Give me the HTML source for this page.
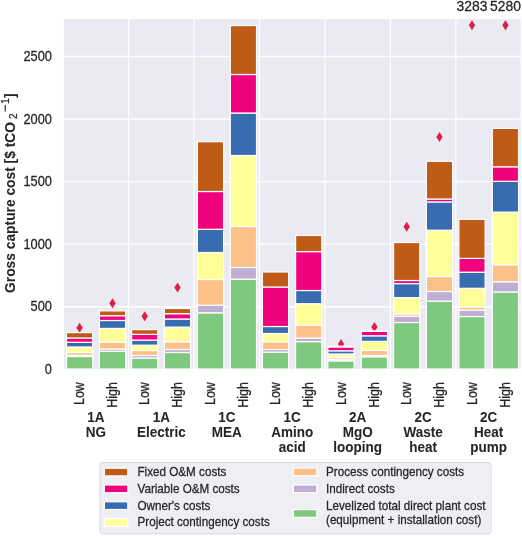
<!DOCTYPE html><html><head><meta charset="utf-8"><style>html,body{margin:0;padding:0;background:#fff;}svg{display:block;will-change:transform;}text{font-family:"Liberation Sans",sans-serif;stroke:#262626;stroke-width:0.25px;}text[font-weight="bold"]{stroke-width:0.05px;}</style></head><body>
<svg width="522" height="536" viewBox="0 0 522 536">
<rect x="63.9" y="19.1" width="456.70" height="350.10" fill="#eaeaf2"/>
<line x1="63.9" x2="520.6" y1="369.33" y2="369.33" stroke="#fff" stroke-width="1.3"/>
<line x1="63.9" x2="520.6" y1="306.76" y2="306.76" stroke="#fff" stroke-width="1.3"/>
<line x1="63.9" x2="520.6" y1="244.19" y2="244.19" stroke="#fff" stroke-width="1.3"/>
<line x1="63.9" x2="520.6" y1="181.62" y2="181.62" stroke="#fff" stroke-width="1.3"/>
<line x1="63.9" x2="520.6" y1="119.05" y2="119.05" stroke="#fff" stroke-width="1.3"/>
<line x1="63.9" x2="520.6" y1="56.48" y2="56.48" stroke="#fff" stroke-width="1.3"/>
<line x1="128.58" x2="128.58" y1="19.1" y2="369.2" stroke="#fff" stroke-width="1.3"/>
<line x1="194.05" x2="194.05" y1="19.1" y2="369.2" stroke="#fff" stroke-width="1.3"/>
<line x1="259.51" x2="259.51" y1="19.1" y2="369.2" stroke="#fff" stroke-width="1.3"/>
<line x1="324.98" x2="324.98" y1="19.1" y2="369.2" stroke="#fff" stroke-width="1.3"/>
<line x1="390.44" x2="390.44" y1="19.1" y2="369.2" stroke="#fff" stroke-width="1.3"/>
<line x1="455.91" x2="455.91" y1="19.1" y2="369.2" stroke="#fff" stroke-width="1.3"/>
<path d="M79.60 322.70 L82.80 327.70 L79.60 332.70 L76.40 327.70Z" fill="#dc1f4b"/>
<path d="M112.50 298.20 L115.70 303.20 L112.50 308.20 L109.30 303.20Z" fill="#dc1f4b"/>
<path d="M144.70 311.30 L147.90 316.30 L144.70 321.30 L141.50 316.30Z" fill="#dc1f4b"/>
<path d="M177.50 282.60 L180.70 287.60 L177.50 292.60 L174.30 287.60Z" fill="#dc1f4b"/>
<path d="M341.00 338.90 L344.20 343.90 L341.00 348.90 L337.80 343.90Z" fill="#dc1f4b"/>
<path d="M374.40 322.00 L377.60 327.00 L374.40 332.00 L371.20 327.00Z" fill="#dc1f4b"/>
<path d="M406.70 221.70 L409.90 226.70 L406.70 231.70 L403.50 226.70Z" fill="#dc1f4b"/>
<path d="M439.50 132.00 L442.70 137.00 L439.50 142.00 L436.30 137.00Z" fill="#dc1f4b"/>
<path d="M472.00 20.30 L475.20 25.30 L472.00 30.30 L468.80 25.30Z" fill="#dc1f4b"/>
<path d="M505.45 20.30 L508.65 25.30 L505.45 30.30 L502.25 25.30Z" fill="#dc1f4b"/>
<rect x="66.50" y="356.50" width="26.2" height="12.50" fill="#7fc97f" stroke="#fff" stroke-width="1.2"/>
<rect x="66.50" y="355.30" width="26.2" height="1.20" fill="#beaed4" stroke="#fff" stroke-width="1.2"/>
<rect x="66.50" y="352.50" width="26.2" height="2.80" fill="#fdc086" stroke="#fff" stroke-width="1.2"/>
<rect x="66.50" y="347.00" width="26.2" height="5.50" fill="#ffff99" stroke="#fff" stroke-width="1.2"/>
<rect x="66.50" y="342.30" width="26.2" height="4.70" fill="#386cb0" stroke="#fff" stroke-width="1.2"/>
<rect x="66.50" y="338.00" width="26.2" height="4.30" fill="#f0027f" stroke="#fff" stroke-width="1.2"/>
<rect x="66.50" y="332.60" width="26.2" height="5.40" fill="#bf5b17" stroke="#fff" stroke-width="1.2"/>
<rect x="99.40" y="351.30" width="26.2" height="17.70" fill="#7fc97f" stroke="#fff" stroke-width="1.2"/>
<rect x="99.40" y="349.00" width="26.2" height="2.30" fill="#beaed4" stroke="#fff" stroke-width="1.2"/>
<rect x="99.40" y="342.10" width="26.2" height="6.90" fill="#fdc086" stroke="#fff" stroke-width="1.2"/>
<rect x="99.40" y="328.40" width="26.2" height="13.70" fill="#ffff99" stroke="#fff" stroke-width="1.2"/>
<rect x="99.40" y="320.50" width="26.2" height="7.90" fill="#386cb0" stroke="#fff" stroke-width="1.2"/>
<rect x="99.40" y="315.70" width="26.2" height="4.80" fill="#f0027f" stroke="#fff" stroke-width="1.2"/>
<rect x="99.40" y="310.90" width="26.2" height="4.80" fill="#bf5b17" stroke="#fff" stroke-width="1.2"/>
<rect x="131.60" y="358.00" width="26.2" height="11.00" fill="#7fc97f" stroke="#fff" stroke-width="1.2"/>
<rect x="131.60" y="355.50" width="26.2" height="2.50" fill="#beaed4" stroke="#fff" stroke-width="1.2"/>
<rect x="131.60" y="350.50" width="26.2" height="5.00" fill="#fdc086" stroke="#fff" stroke-width="1.2"/>
<rect x="131.60" y="345.20" width="26.2" height="5.30" fill="#ffff99" stroke="#fff" stroke-width="1.2"/>
<rect x="131.60" y="340.10" width="26.2" height="5.10" fill="#386cb0" stroke="#fff" stroke-width="1.2"/>
<rect x="131.60" y="334.40" width="26.2" height="5.70" fill="#f0027f" stroke="#fff" stroke-width="1.2"/>
<rect x="131.60" y="329.60" width="26.2" height="4.80" fill="#bf5b17" stroke="#fff" stroke-width="1.2"/>
<rect x="164.40" y="352.50" width="26.2" height="16.50" fill="#7fc97f" stroke="#fff" stroke-width="1.2"/>
<rect x="164.40" y="349.50" width="26.2" height="3.00" fill="#beaed4" stroke="#fff" stroke-width="1.2"/>
<rect x="164.40" y="341.80" width="26.2" height="7.70" fill="#fdc086" stroke="#fff" stroke-width="1.2"/>
<rect x="164.40" y="327.10" width="26.2" height="14.70" fill="#ffff99" stroke="#fff" stroke-width="1.2"/>
<rect x="164.40" y="319.00" width="26.2" height="8.10" fill="#386cb0" stroke="#fff" stroke-width="1.2"/>
<rect x="164.40" y="313.70" width="26.2" height="5.30" fill="#f0027f" stroke="#fff" stroke-width="1.2"/>
<rect x="164.40" y="308.50" width="26.2" height="5.20" fill="#bf5b17" stroke="#fff" stroke-width="1.2"/>
<rect x="197.40" y="312.80" width="26.2" height="56.20" fill="#7fc97f" stroke="#fff" stroke-width="1.2"/>
<rect x="197.40" y="305.20" width="26.2" height="7.60" fill="#beaed4" stroke="#fff" stroke-width="1.2"/>
<rect x="197.40" y="279.50" width="26.2" height="25.70" fill="#fdc086" stroke="#fff" stroke-width="1.2"/>
<rect x="197.40" y="252.50" width="26.2" height="27.00" fill="#ffff99" stroke="#fff" stroke-width="1.2"/>
<rect x="197.40" y="229.30" width="26.2" height="23.20" fill="#386cb0" stroke="#fff" stroke-width="1.2"/>
<rect x="197.40" y="191.50" width="26.2" height="37.80" fill="#f0027f" stroke="#fff" stroke-width="1.2"/>
<rect x="197.40" y="141.70" width="26.2" height="49.80" fill="#bf5b17" stroke="#fff" stroke-width="1.2"/>
<rect x="230.30" y="279.10" width="26.2" height="89.90" fill="#7fc97f" stroke="#fff" stroke-width="1.2"/>
<rect x="230.30" y="267.50" width="26.2" height="11.60" fill="#beaed4" stroke="#fff" stroke-width="1.2"/>
<rect x="230.30" y="226.50" width="26.2" height="41.00" fill="#fdc086" stroke="#fff" stroke-width="1.2"/>
<rect x="230.30" y="155.50" width="26.2" height="71.00" fill="#ffff99" stroke="#fff" stroke-width="1.2"/>
<rect x="230.30" y="113.00" width="26.2" height="42.50" fill="#386cb0" stroke="#fff" stroke-width="1.2"/>
<rect x="230.30" y="74.50" width="26.2" height="38.50" fill="#f0027f" stroke="#fff" stroke-width="1.2"/>
<rect x="230.30" y="25.60" width="26.2" height="48.90" fill="#bf5b17" stroke="#fff" stroke-width="1.2"/>
<rect x="262.40" y="352.20" width="26.2" height="16.80" fill="#7fc97f" stroke="#fff" stroke-width="1.2"/>
<rect x="262.40" y="349.50" width="26.2" height="2.70" fill="#beaed4" stroke="#fff" stroke-width="1.2"/>
<rect x="262.40" y="341.80" width="26.2" height="7.70" fill="#fdc086" stroke="#fff" stroke-width="1.2"/>
<rect x="262.40" y="333.50" width="26.2" height="8.30" fill="#ffff99" stroke="#fff" stroke-width="1.2"/>
<rect x="262.40" y="326.50" width="26.2" height="7.00" fill="#386cb0" stroke="#fff" stroke-width="1.2"/>
<rect x="262.40" y="287.00" width="26.2" height="39.50" fill="#f0027f" stroke="#fff" stroke-width="1.2"/>
<rect x="262.40" y="272.00" width="26.2" height="15.00" fill="#bf5b17" stroke="#fff" stroke-width="1.2"/>
<rect x="295.60" y="341.60" width="26.2" height="27.40" fill="#7fc97f" stroke="#fff" stroke-width="1.2"/>
<rect x="295.60" y="338.00" width="26.2" height="3.60" fill="#beaed4" stroke="#fff" stroke-width="1.2"/>
<rect x="295.60" y="325.00" width="26.2" height="13.00" fill="#fdc086" stroke="#fff" stroke-width="1.2"/>
<rect x="295.60" y="303.70" width="26.2" height="21.30" fill="#ffff99" stroke="#fff" stroke-width="1.2"/>
<rect x="295.60" y="290.50" width="26.2" height="13.20" fill="#386cb0" stroke="#fff" stroke-width="1.2"/>
<rect x="295.60" y="251.60" width="26.2" height="38.90" fill="#f0027f" stroke="#fff" stroke-width="1.2"/>
<rect x="295.60" y="235.50" width="26.2" height="16.10" fill="#bf5b17" stroke="#fff" stroke-width="1.2"/>
<rect x="327.90" y="360.80" width="26.2" height="8.20" fill="#7fc97f" stroke="#fff" stroke-width="1.2"/>
<rect x="327.90" y="359.50" width="26.2" height="1.30" fill="#beaed4" stroke="#fff" stroke-width="1.2"/>
<rect x="327.90" y="357.60" width="26.2" height="1.90" fill="#fdc086" stroke="#fff" stroke-width="1.2"/>
<rect x="327.90" y="354.00" width="26.2" height="3.60" fill="#ffff99" stroke="#fff" stroke-width="1.2"/>
<rect x="327.90" y="350.80" width="26.2" height="3.20" fill="#386cb0" stroke="#fff" stroke-width="1.2"/>
<rect x="327.90" y="346.90" width="26.2" height="3.90" fill="#f0027f" stroke="#fff" stroke-width="1.2"/>
<rect x="327.90" y="346.30" width="26.2" height="0.60" fill="#bf5b17" stroke="#fff" stroke-width="1.2"/>
<rect x="361.30" y="356.80" width="26.2" height="12.20" fill="#7fc97f" stroke="#fff" stroke-width="1.2"/>
<rect x="361.30" y="355.50" width="26.2" height="1.30" fill="#beaed4" stroke="#fff" stroke-width="1.2"/>
<rect x="361.30" y="350.40" width="26.2" height="5.10" fill="#fdc086" stroke="#fff" stroke-width="1.2"/>
<rect x="361.30" y="341.40" width="26.2" height="9.00" fill="#ffff99" stroke="#fff" stroke-width="1.2"/>
<rect x="361.30" y="335.80" width="26.2" height="5.60" fill="#386cb0" stroke="#fff" stroke-width="1.2"/>
<rect x="361.30" y="331.30" width="26.2" height="4.50" fill="#f0027f" stroke="#fff" stroke-width="1.2"/>
<rect x="361.30" y="331.00" width="26.2" height="0.30" fill="#bf5b17" stroke="#fff" stroke-width="1.2"/>
<rect x="393.60" y="322.50" width="26.2" height="46.50" fill="#7fc97f" stroke="#fff" stroke-width="1.2"/>
<rect x="393.60" y="316.40" width="26.2" height="6.10" fill="#beaed4" stroke="#fff" stroke-width="1.2"/>
<rect x="393.60" y="313.90" width="26.2" height="2.50" fill="#fdc086" stroke="#fff" stroke-width="1.2"/>
<rect x="393.60" y="297.60" width="26.2" height="16.30" fill="#ffff99" stroke="#fff" stroke-width="1.2"/>
<rect x="393.60" y="283.60" width="26.2" height="14.00" fill="#386cb0" stroke="#fff" stroke-width="1.2"/>
<rect x="393.60" y="280.50" width="26.2" height="3.10" fill="#f0027f" stroke="#fff" stroke-width="1.2"/>
<rect x="393.60" y="242.50" width="26.2" height="38.00" fill="#bf5b17" stroke="#fff" stroke-width="1.2"/>
<rect x="426.40" y="301.10" width="26.2" height="67.90" fill="#7fc97f" stroke="#fff" stroke-width="1.2"/>
<rect x="426.40" y="291.50" width="26.2" height="9.60" fill="#beaed4" stroke="#fff" stroke-width="1.2"/>
<rect x="426.40" y="276.50" width="26.2" height="15.00" fill="#fdc086" stroke="#fff" stroke-width="1.2"/>
<rect x="426.40" y="230.20" width="26.2" height="46.30" fill="#ffff99" stroke="#fff" stroke-width="1.2"/>
<rect x="426.40" y="201.90" width="26.2" height="28.30" fill="#386cb0" stroke="#fff" stroke-width="1.2"/>
<rect x="426.40" y="199.00" width="26.2" height="2.90" fill="#f0027f" stroke="#fff" stroke-width="1.2"/>
<rect x="426.40" y="161.30" width="26.2" height="37.70" fill="#bf5b17" stroke="#fff" stroke-width="1.2"/>
<rect x="458.90" y="316.50" width="26.2" height="52.50" fill="#7fc97f" stroke="#fff" stroke-width="1.2"/>
<rect x="458.90" y="310.00" width="26.2" height="6.50" fill="#beaed4" stroke="#fff" stroke-width="1.2"/>
<rect x="458.90" y="307.00" width="26.2" height="3.00" fill="#fdc086" stroke="#fff" stroke-width="1.2"/>
<rect x="458.90" y="288.30" width="26.2" height="18.70" fill="#ffff99" stroke="#fff" stroke-width="1.2"/>
<rect x="458.90" y="272.20" width="26.2" height="16.10" fill="#386cb0" stroke="#fff" stroke-width="1.2"/>
<rect x="458.90" y="258.40" width="26.2" height="13.80" fill="#f0027f" stroke="#fff" stroke-width="1.2"/>
<rect x="458.90" y="219.30" width="26.2" height="39.10" fill="#bf5b17" stroke="#fff" stroke-width="1.2"/>
<rect x="492.35" y="292.00" width="26.2" height="77.00" fill="#7fc97f" stroke="#fff" stroke-width="1.2"/>
<rect x="492.35" y="281.80" width="26.2" height="10.20" fill="#beaed4" stroke="#fff" stroke-width="1.2"/>
<rect x="492.35" y="264.70" width="26.2" height="17.10" fill="#fdc086" stroke="#fff" stroke-width="1.2"/>
<rect x="492.35" y="212.10" width="26.2" height="52.60" fill="#ffff99" stroke="#fff" stroke-width="1.2"/>
<rect x="492.35" y="181.30" width="26.2" height="30.80" fill="#386cb0" stroke="#fff" stroke-width="1.2"/>
<rect x="492.35" y="166.80" width="26.2" height="14.50" fill="#f0027f" stroke="#fff" stroke-width="1.2"/>
<rect x="492.35" y="128.40" width="26.2" height="38.40" fill="#bf5b17" stroke="#fff" stroke-width="1.2"/>
<text transform="translate(52,374.03) scale(0.95,1.1)" font-size="13.5" fill="#262626" text-anchor="end">0</text>
<text transform="translate(52,311.46) scale(0.95,1.1)" font-size="13.5" fill="#262626" text-anchor="end">500</text>
<text transform="translate(52,248.89) scale(0.95,1.1)" font-size="13.5" fill="#262626" text-anchor="end">1000</text>
<text transform="translate(52,186.32) scale(0.95,1.1)" font-size="13.5" fill="#262626" text-anchor="end">1500</text>
<text transform="translate(52,123.75) scale(0.95,1.1)" font-size="13.5" fill="#262626" text-anchor="end">2000</text>
<text transform="translate(52,61.18) scale(0.95,1.1)" font-size="13.5" fill="#262626" text-anchor="end">2500</text>
<text transform="translate(84.20,382.2) rotate(-90) scale(0.92,1.08)" font-size="13.5" fill="#262626" text-anchor="end">Low</text>
<text transform="translate(117.10,382.2) rotate(-90) scale(0.92,1.08)" font-size="13.5" fill="#262626" text-anchor="end">High</text>
<text transform="translate(149.30,382.2) rotate(-90) scale(0.92,1.08)" font-size="13.5" fill="#262626" text-anchor="end">Low</text>
<text transform="translate(182.10,382.2) rotate(-90) scale(0.92,1.08)" font-size="13.5" fill="#262626" text-anchor="end">High</text>
<text transform="translate(215.10,382.2) rotate(-90) scale(0.92,1.08)" font-size="13.5" fill="#262626" text-anchor="end">Low</text>
<text transform="translate(248.00,382.2) rotate(-90) scale(0.92,1.08)" font-size="13.5" fill="#262626" text-anchor="end">High</text>
<text transform="translate(280.10,382.2) rotate(-90) scale(0.92,1.08)" font-size="13.5" fill="#262626" text-anchor="end">Low</text>
<text transform="translate(313.30,382.2) rotate(-90) scale(0.92,1.08)" font-size="13.5" fill="#262626" text-anchor="end">High</text>
<text transform="translate(345.60,382.2) rotate(-90) scale(0.92,1.08)" font-size="13.5" fill="#262626" text-anchor="end">Low</text>
<text transform="translate(379.00,382.2) rotate(-90) scale(0.92,1.08)" font-size="13.5" fill="#262626" text-anchor="end">High</text>
<text transform="translate(411.30,382.2) rotate(-90) scale(0.92,1.08)" font-size="13.5" fill="#262626" text-anchor="end">Low</text>
<text transform="translate(444.10,382.2) rotate(-90) scale(0.92,1.08)" font-size="13.5" fill="#262626" text-anchor="end">High</text>
<text transform="translate(476.60,382.2) rotate(-90) scale(0.92,1.08)" font-size="13.5" fill="#262626" text-anchor="end">Low</text>
<text transform="translate(510.05,382.2) rotate(-90) scale(0.92,1.08)" font-size="13.5" fill="#262626" text-anchor="end">High</text>
<text transform="translate(95.85,422.00) scale(1.0,1.1)" font-size="13.5" font-weight="bold" fill="#262626" text-anchor="middle">1A</text>
<text transform="translate(95.85,436.80) scale(1.0,1.1)" font-size="13.5" font-weight="bold" fill="#262626" text-anchor="middle">NG</text>
<text transform="translate(161.31,422.00) scale(1.0,1.1)" font-size="13.5" font-weight="bold" fill="#262626" text-anchor="middle">1A</text>
<text transform="translate(161.31,436.80) scale(1.0,1.1)" font-size="13.5" font-weight="bold" fill="#262626" text-anchor="middle">Electric</text>
<text transform="translate(226.78,422.00) scale(1.0,1.1)" font-size="13.5" font-weight="bold" fill="#262626" text-anchor="middle">1C</text>
<text transform="translate(226.78,436.80) scale(1.0,1.1)" font-size="13.5" font-weight="bold" fill="#262626" text-anchor="middle">MEA</text>
<text transform="translate(292.24,422.00) scale(1.0,1.1)" font-size="13.5" font-weight="bold" fill="#262626" text-anchor="middle">1C</text>
<text transform="translate(292.24,436.80) scale(1.0,1.1)" font-size="13.5" font-weight="bold" fill="#262626" text-anchor="middle">Amino</text>
<text transform="translate(292.24,451.60) scale(1.0,1.1)" font-size="13.5" font-weight="bold" fill="#262626" text-anchor="middle">acid</text>
<text transform="translate(357.71,422.00) scale(1.0,1.1)" font-size="13.5" font-weight="bold" fill="#262626" text-anchor="middle">2A</text>
<text transform="translate(357.71,436.80) scale(1.0,1.1)" font-size="13.5" font-weight="bold" fill="#262626" text-anchor="middle">MgO</text>
<text transform="translate(357.71,451.60) scale(1.0,1.1)" font-size="13.5" font-weight="bold" fill="#262626" text-anchor="middle">looping</text>
<text transform="translate(423.18,422.00) scale(1.0,1.1)" font-size="13.5" font-weight="bold" fill="#262626" text-anchor="middle">2C</text>
<text transform="translate(423.18,436.80) scale(1.0,1.1)" font-size="13.5" font-weight="bold" fill="#262626" text-anchor="middle">Waste</text>
<text transform="translate(423.18,451.60) scale(1.0,1.1)" font-size="13.5" font-weight="bold" fill="#262626" text-anchor="middle">heat</text>
<text transform="translate(488.64,422.00) scale(1.0,1.1)" font-size="13.5" font-weight="bold" fill="#262626" text-anchor="middle">2C</text>
<text transform="translate(488.64,436.80) scale(1.0,1.1)" font-size="13.5" font-weight="bold" fill="#262626" text-anchor="middle">Heat</text>
<text transform="translate(488.64,451.60) scale(1.0,1.1)" font-size="13.5" font-weight="bold" fill="#262626" text-anchor="middle">pump</text>
<text transform="translate(472.00,11.2) scale(1.03,1.12)" font-size="13.5" fill="#262626" text-anchor="middle">3283</text>
<text transform="translate(505.45,11.2) scale(1.03,1.12)" font-size="13.5" fill="#262626" text-anchor="middle">5280</text>
<text transform="translate(14.6,292.9) rotate(-90) scale(0.985,1.05)" font-size="14" font-weight="bold" fill="#262626">Gross capture cost [$ tCO</text>
<text transform="translate(17,119) rotate(-90)" font-size="10" fill="#262626">2</text>
<rect x="4.7" y="105" width="1.1" height="6.6" fill="#262626"/>
<text transform="translate(8.8,104) rotate(-90) scale(1,1.05)" font-size="10.5" fill="#262626">1</text>
<text transform="translate(14.6,98) rotate(-90)" font-size="14" font-weight="bold" fill="#262626">]</text>
<rect x="100" y="462.5" width="391" height="71.3" rx="3" ry="3" fill="#eaeaf2" fill-opacity="0.8" stroke="#d6d6da" stroke-width="1"/>
<rect x="104.4" y="468.20" width="23.4" height="7.7" fill="#bf5b17" stroke="#fff" stroke-width="1.2"/>
<text transform="translate(137.5,475.90) scale(0.99,1.1)" font-size="11.8" fill="#262626">Fixed O&amp;M costs</text>
<rect x="104.4" y="485.00" width="23.4" height="7.7" fill="#f0027f" stroke="#fff" stroke-width="1.2"/>
<text transform="translate(137.5,492.70) scale(0.99,1.1)" font-size="11.8" fill="#262626">Variable O&amp;M costs</text>
<rect x="104.4" y="501.80" width="23.4" height="7.7" fill="#386cb0" stroke="#fff" stroke-width="1.2"/>
<text transform="translate(137.5,509.50) scale(0.99,1.1)" font-size="11.8" fill="#262626">Owner's costs</text>
<rect x="104.4" y="518.60" width="23.4" height="7.7" fill="#ffff99" stroke="#fff" stroke-width="1.2"/>
<text transform="translate(137.5,526.30) scale(0.99,1.1)" font-size="11.8" fill="#262626">Project contingency costs</text>
<rect x="293.4" y="468.00" width="23.4" height="7.7" fill="#fdc086" stroke="#fff" stroke-width="1.2"/>
<text transform="translate(326,475.70) scale(0.99,1.1)" font-size="11.8" fill="#262626">Process contingency costs</text>
<rect x="293.4" y="485.00" width="23.4" height="7.7" fill="#beaed4" stroke="#fff" stroke-width="1.2"/>
<text transform="translate(326,492.70) scale(0.99,1.1)" font-size="11.8" fill="#262626">Indirect costs</text>
<rect x="293.4" y="509.6" width="23.4" height="7.7" fill="#7fc97f" stroke="#fff" stroke-width="1.2"/>
<text transform="translate(326,510.1) scale(0.99,1.1)" font-size="11.8" fill="#262626">Levelized total direct plant cost</text>
<text transform="translate(326,524.1) scale(0.99,1.1)" font-size="11.8" fill="#262626">(equipment + installation cost)</text>
</svg></body></html>
